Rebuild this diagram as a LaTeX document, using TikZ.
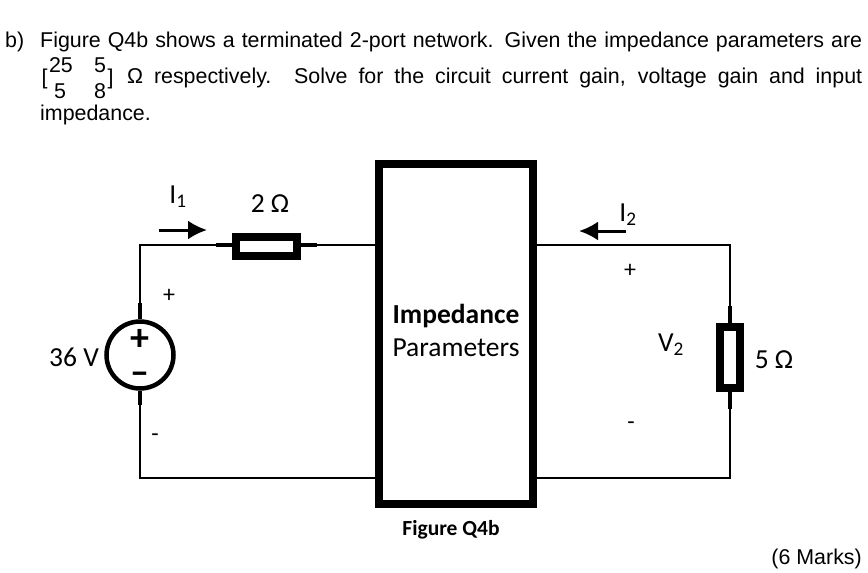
\documentclass[tikz,border=0pt]{standalone}
\usepackage{fontspec}
\setmainfont{Liberation Sans}
\newfontfamily\labelfont{Carlito}
\usetikzlibrary{calc}
\usetikzlibrary{arrows.meta}
\tikzset{
	wire/.style={line width=2.8pt},
	stub/.style={line width=4pt},
	res/.style={draw,line width=8pt,inner sep=0pt,fill=white},
	body/.style={inner sep=0pt,font=\fontsize{21.4}{36.5}\selectfont},
	lab/.style={inner sep=0pt,font=\labelfont\fontsize{27.5}{33}\selectfont},
	sign/.style={inner sep=0pt,font=\labelfont\fontsize{24}{24}\selectfont},
	srcsign/.style={inner sep=0pt,font=\labelfont\bfseries\fontsize{38}{38}\selectfont},
	cur/.style={line width=3pt,-{Latex[length=19pt,width=19pt]}},
}
\begin{document}
\begin{tikzpicture}[x=1pt,y=-1pt]
	\useasboundingbox (0,0) rectangle (868,573);
	% question text
	\node[body,anchor=base west] (part) at (5,47) {b)};
	\node[body,anchor=base west,text width=822pt,align=justify] (question) at (40,47) {Figure Q4b shows a terminated 2-port network. Given the impedance parameters are\linebreak \hspace*{76pt} Ω respectively. Solve for the circuit current gain, voltage gain and input\linebreak impedance.};
	\node[body,anchor=base] (brl) at (44.5,84) {[};
	\node[body,anchor=base] (brr) at (110.5,84) {]};
	\node[body,anchor=base] (m11) at (61,72) {25};
	\node[body,anchor=base] (m12) at (100,72) {5};
	\node[body,anchor=base] (m21) at (60,98) {5};
	\node[body,anchor=base] (m22) at (100,98) {8};
	\node[body,anchor=base east] (marks) at (862,564) {(6 Marks)};
	% network
	\node[res,minimum width=154pt,minimum height=340pt] (box) at (456,334) {};
	\node[lab,align=center] (boxl) at (456,330) {\textbf{Impedance}\\Parameters};
	\node[res,minimum width=61pt,minimum height=19pt] (r1) at (266.5,246.5) {};
	\node[res,minimum width=20pt,minimum height=61pt] (r2) at (730,357.5) {};
	\node[draw,circle,line width=4.5pt,minimum size=67pt,inner sep=0pt] (vs) at (140,355) {};
	\coordinate (tl) at (140,245);
	\coordinate (tr) at (730,245);
	\coordinate (bl) at (140,478);
	\coordinate (br) at (730,478);
	\draw[wire] (vs.north) -- (tl) -- (r1.west |- tl);
	\draw[wire] (r1.east |- tl) -- (box.west |- tl);
	\draw[wire] (box.east |- tr) -- (tr) -- (r2.north);
	\draw[wire] (vs.south) -- (bl) -- (box.west |- bl);
	\draw[wire] (box.east |- br) -- (br) -- (r2.south);
	% thicker ends of the leads
	\draw[stub] (r1.west |- tl) -- ++(-16,0);
	\draw[stub] (r1.east |- tl) -- ++(16,0);
	\draw[stub] (r2.north) -- ++(0,-17);
	\draw[stub] (r2.south) -- ++(0,17);
	\draw[stub] (vs.north) -- ++(0,-16);
	\draw[stub] (vs.south) -- ++(0,14);
	% source signs
	\node[srcsign] (vsp) at (140,340) {+};
	\node[srcsign] (vsm) at (140,378) {–};
	% currents
	\coordinate (i1a) at (159,230);
	\coordinate (i1b) at (207,230);
	\coordinate (i2a) at (626,231);
	\coordinate (i2b) at (579,231);
	\draw[cur] (i1a) -- (i1b);
	\draw[cur] (i2a) -- (i2b);
	% labels
	\node[lab] (i1) at (178,197) {I\textsubscript{1}};
	\node[lab] (i2) at (628,215) {I\textsubscript{2}};
	\node[lab] (r1l) at (270,204) {2 Ω};
	\node[lab] (r2l) at (774,360) {5 Ω};
	\node[lab] (vsl) at (74,357) {36 V};
	\node[lab] (v2) at (671,345) {V\textsubscript{2}};
	\node[sign] (pl) at (169,296) {+};
	\node[sign] (ml) at (155,438) {-};
	\node[sign] (pr) at (630,271) {+};
	\node[sign] (mr) at (631,426) {-};
	\node[inner sep=0pt,font=\labelfont\bfseries\fontsize{21.5}{21.5}\selectfont] (fig) at (451,530) {Figure Q4b};
\end{tikzpicture}
\end{document}
